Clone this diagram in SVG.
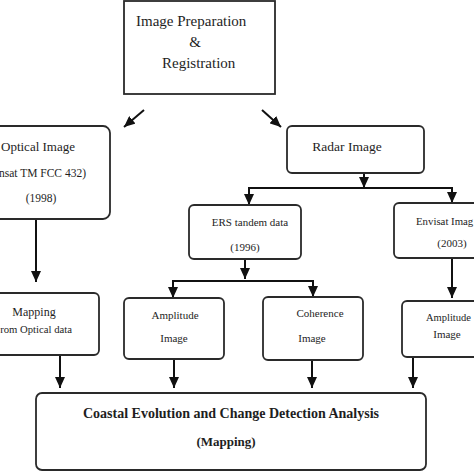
<svg xmlns="http://www.w3.org/2000/svg" width="474" height="474" viewBox="0 0 474 474">
<defs>
<style>
.box{fill:#fff;stroke:#2a2a2a;stroke-width:1.8}
.t{font-family:"Liberation Serif","Times New Roman",serif;fill:#1e1e1e}
.c{text-anchor:middle}
.e{text-anchor:end}
.b{font-weight:bold}
.ln{fill:none;stroke:#111;stroke-width:2}
.ar{fill:none;stroke:#111;stroke-width:2;marker-end:url(#ah)}
</style>
<marker id="ah" markerUnits="userSpaceOnUse" markerWidth="11" markerHeight="10" refX="11" refY="5" orient="auto">
<path d="M0,0 L11,5 L0,10 z" fill="#111"/>
</marker>
</defs>
<rect width="474" height="474" fill="#fff"/>

<g id="connectors">
<line class="ar" x1="144" y1="110" x2="124" y2="127"/>
<line class="ar" x1="262" y1="110" x2="281" y2="127"/>
<line class="ar" x1="364" y1="173" x2="364" y2="188"/>
<polyline class="ln" points="249,196 249,188 452,188 452,194"/>
<line class="ar" x1="249" y1="188" x2="249" y2="205"/>
<line class="ar" x1="452" y1="188" x2="452" y2="203"/>
<line class="ar" x1="36" y1="219" x2="36" y2="282"/>
<line class="ar" x1="245" y1="260" x2="245" y2="279"/>
<polyline class="ln" points="173,289 173,281 313,281 313,288"/>
<line class="ar" x1="173" y1="281" x2="173" y2="298"/>
<line class="ar" x1="313" y1="281" x2="313" y2="297"/>
<line class="ar" x1="452" y1="258" x2="452" y2="298"/>
<line class="ar" x1="60" y1="355" x2="60" y2="388"/>
<line class="ar" x1="174" y1="359" x2="174" y2="388"/>
<line class="ar" x1="312" y1="360" x2="312" y2="388"/>
<line class="ar" x1="413" y1="357" x2="413" y2="388"/>
</g>

<g id="prep">
<rect class="box" x="124" y="1" width="151" height="93"/>
<text class="t" x="136" y="26" font-size="15">Image Preparation</text>
<text class="t c" x="195" y="47" font-size="15">&amp;</text>
<text class="t" x="162" y="68" font-size="15">Registration</text>
</g>

<g id="optical">
<rect class="box" x="-20" y="126" width="130" height="93" rx="7"/>
<text class="t" x="1" y="151" font-size="13">Optical Image</text>
<text class="t e" x="86" y="177" font-size="11.5">nsat TM FCC 432)</text>
<text class="t c" x="41" y="202" font-size="11.5">(1998)</text>
</g>

<g id="radar">
<rect class="box" x="287" y="126" width="137" height="47" rx="5"/>
<text class="t c" x="347" y="151" font-size="13.5">Radar Image</text>
</g>

<g id="ers">
<rect class="box" x="189" y="205" width="112" height="54" rx="5"/>
<text class="t c" x="250" y="226" font-size="11">ERS tandem data</text>
<text class="t c" x="245" y="251" font-size="11">(1996)</text>
</g>

<g id="envisat">
<rect class="box" x="394" y="203" width="90" height="55" rx="5"/>
<text class="t" x="416" y="225" font-size="10.8">Envisat Imag</text>
<text class="t c" x="452" y="247" font-size="11">(2003)</text>
</g>

<g id="mapping">
<rect class="box" x="-20" y="293" width="119" height="62" rx="5"/>
<text class="t c" x="34" y="316" font-size="12">Mapping</text>
<text class="t e" x="72" y="333" font-size="10.7">rom Optical data</text>
</g>

<g id="amplitude">
<rect class="box" x="124" y="298" width="100" height="61" rx="5"/>
<text class="t c" x="175" y="319" font-size="11">Amplitude</text>
<text class="t c" x="174" y="342" font-size="11">Image</text>
</g>

<g id="coherence">
<rect class="box" x="263" y="297" width="100" height="63" rx="5"/>
<text class="t c" x="320" y="317" font-size="11">Coherence</text>
<text class="t c" x="312" y="342" font-size="11">Image</text>
</g>

<g id="amplitude2">
<rect class="box" x="402" y="301" width="82" height="56" rx="5"/>
<text class="t" x="426" y="321" font-size="10.5">Amplitude</text>
<text class="t c" x="447" y="338" font-size="11">Image</text>
</g>

<g id="analysis">
<rect class="box" x="36" y="393" width="390" height="77" rx="6"/>
<text class="t c b" x="231" y="418" font-size="14">Coastal Evolution and Change Detection Analysis</text>
<text class="t c b" x="226" y="446" font-size="13">(Mapping)</text>
</g>
</svg>
